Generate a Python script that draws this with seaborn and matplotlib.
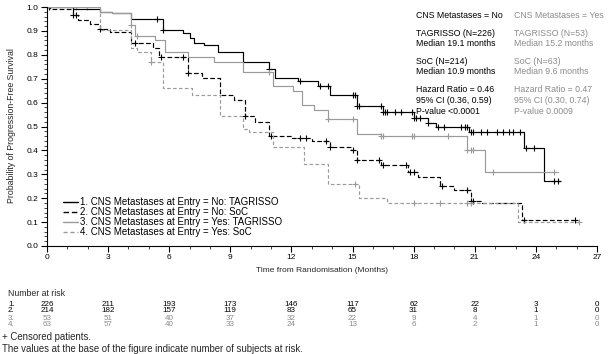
import numpy as np
import pandas as pd
import matplotlib
matplotlib.use("Agg")
import matplotlib.pyplot as plt
import seaborn as sns
from matplotlib.lines import Line2D
from matplotlib.ticker import MultipleLocator

# ---------------- data ----------------
# 1. CNS Metastases at Entry = No: TAGRISSO
t_tag_no = [0, 1.3, 2.6, 3.2, 4.1, 5.7, 6.7, 7.0, 7.2, 7.7, 8.4, 9.6, 10.9, 11.2, 12.3, 13.3,
            13.9, 15.2, 16.5, 18.0, 18.7, 19.1, 20.7, 23.4, 24.4, 25.2]
s_tag_no = [1.0, 0.99, 0.98, 0.975, 0.95, 0.905, 0.89, 0.87, 0.85, 0.84, 0.81, 0.77, 0.74, 0.705, 0.69, 0.67,
            0.63, 0.585, 0.56, 0.535, 0.515, 0.50, 0.475, 0.41, 0.27, 0.27]
c_tag_no = [0.1, 5.4, 5.7, 10.9, 12.4, 13.4, 13.8, 15.0, 15.1, 15.2, 15.3, 16.4, 16.5, 16.6, 16.7, 17.1, 17.4,
            17.9, 18.0, 18.1, 18.3, 18.7, 19.2, 19.5, 20.3, 20.5, 20.6, 20.8, 20.9, 21.3, 21.6, 22.1,
            22.4, 22.7, 22.9, 23.2, 23.5, 23.9, 24.9, 25.1]

# 2. CNS Metastases at Entry = No: SoC
t_soc_no = [0, 0.15, 1.3, 1.5, 2.1, 2.6, 3.1, 4.1, 5.2, 5.5, 6.9, 7.6, 8.5, 9.2, 9.7, 10.2, 10.9, 12.0,
            13.0, 13.9, 14.9, 15.2, 16.4, 17.7, 18.2, 19.3, 20.0, 20.8, 21.3, 23.3, 26.0]
s_soc_no = [1.0, 0.99, 0.967, 0.946, 0.93, 0.91, 0.895, 0.85, 0.83, 0.79, 0.725, 0.705, 0.63, 0.61, 0.545, 0.52,
            0.46, 0.45, 0.44, 0.415, 0.40, 0.36, 0.34, 0.31, 0.29, 0.25, 0.235, 0.19, 0.18, 0.11, 0.11]
c_soc_no = [1.3, 1.4, 2.6, 4.3, 5.6, 6.7, 6.9, 9.7, 11.0, 12.4, 12.7, 13.7, 13.9, 15.0, 15.2, 16.3, 16.5,
            17.6, 17.8, 18.0, 19.4, 20.6, 20.8, 20.9, 23.4, 25.9]

# 3. CNS Metastases at Entry = Yes: TAGRISSO
t_tag_yes = [0, 2.6, 3.2, 4.1, 4.3, 5.3, 5.8, 6.9, 8.2, 9.6, 11.1, 12.1, 12.5, 13.1, 13.8, 15.2, 16.4,
             20.6, 21.5, 25.1]
s_tag_yes = [1.0, 0.98, 0.975, 0.925, 0.88, 0.86, 0.81, 0.79, 0.77, 0.73, 0.67, 0.65, 0.59, 0.57, 0.53, 0.47, 0.46,
             0.40, 0.31, 0.31]
c_tag_yes = [1.3, 1.4, 1.95, 4.1, 4.4, 10.9, 13.8, 15.0, 16.4, 16.5, 17.9, 18.0, 19.7, 20.6, 20.8, 20.9,
             21.9, 24.9]

# 4. CNS Metastases at Entry = Yes: SoC
t_soc_yes = [0, 2.6, 4.1, 4.4, 5.1, 5.7, 7.1, 8.5, 9.6, 9.9, 11.1, 12.6, 13.8, 15.3, 16.7, 23.1, 26.2]
s_soc_yes = [1.0, 0.905, 0.83, 0.81, 0.77, 0.66, 0.63, 0.545, 0.49, 0.475, 0.415, 0.345, 0.26, 0.20, 0.18,
             0.10, 0.10]
c_soc_yes = [5.1, 15.1, 18.0, 19.3, 20.6, 20.8, 26.1]

# number at risk
risk_times = [0, 3, 6, 9, 12, 15, 18, 21, 24, 27]
risk_tag_no = [226, 211, 193, 173, 146, 117, 62, 22, 3, 0]
risk_soc_no = [214, 182, 157, 119, 83, 65, 31, 8, 1, 0]
risk_tag_yes = [53, 51, 40, 37, 32, 22, 9, 4, 1, 0]
risk_soc_yes = [63, 57, 40, 33, 24, 13, 6, 2, 1, 0]

legend_labels = ["1. CNS Metastases at Entry = No: TAGRISSO",
                 "2. CNS Metastases at Entry = No: SoC",
                 "3. CNS Metastases at Entry = Yes: TAGRISSO",
                 "4. CNS Metastases at Entry = Yes: SoC"]

# ---------------- style ----------------
sns.set_style("white")
plt.rcParams["font.family"] = ["Liberation Sans", "DejaVu Sans"]
BLACK = "#000000"
GRAY = "#9a9a9a"
TGRAY = "#8c8c8c"

W, H = 610, 354
fig = plt.figure(figsize=(W / 100, H / 100), dpi=100)
fx = lambda px: px / W
fy = lambda py: 1 - py / H

ax = fig.add_axes([fx(47), fy(246), fx(597) - fx(47), fy(7) - fy(246)])

series = [
    (t_tag_no, s_tag_no, c_tag_no, BLACK, "-", 0.85),
    (t_soc_no, s_soc_no, c_soc_no, BLACK, (0, (4, 2)), 0.85),
    (t_tag_yes, s_tag_yes, c_tag_yes, GRAY, "-", 0.85),
    (t_soc_yes, s_soc_yes, c_soc_yes, GRAY, (0, (3, 2)), 0.85),
]

for t, s, c, col, ls, lw in series:
    df = pd.DataFrame({"time": t, "surv": s})
    sns.lineplot(data=df, x="time", y="surv", drawstyle="steps-post", estimator=None,
                 color=col, linestyle=ls, linewidth=lw, ax=ax, legend=False)
    ta = np.asarray(t)
    sa = np.asarray(s)
    idx = np.searchsorted(ta, np.asarray(c), side="right") - 1
    cdf = pd.DataFrame({"time": c, "surv": sa[idx]})
    sns.scatterplot(data=cdf, x="time", y="surv", marker="+", s=16, color=col,
                    linewidth=0.8, ax=ax, legend=False)

ax.set_xlim(0, 27)
ax.set_ylim(0, 1.0)
ax.xaxis.set_major_locator(MultipleLocator(3))
ax.xaxis.set_minor_locator(MultipleLocator(1))
ax.yaxis.set_major_locator(MultipleLocator(0.1))
ax.yaxis.set_minor_locator(MultipleLocator(0.02))
ax.set_yticks(np.round(np.arange(0, 1.01, 0.1), 1))
ax.set_yticklabels([f"{v:.1f}" for v in np.arange(0, 1.01, 0.1)])
ax.tick_params(axis="both", which="major", direction="out", length=4, width=0.8,
               labelsize=6, pad=2, colors=BLACK, bottom=True, left=True)
ax.tick_params(axis="both", which="minor", direction="out", length=2, width=0.6,
               bottom=True, left=True)
for sp in ["top", "right"]:
    ax.spines[sp].set_visible(False)
for sp in ["left", "bottom"]:
    ax.spines[sp].set_color(BLACK)
    ax.spines[sp].set_linewidth(0.8)
ax.set_xlabel("")
ax.set_ylabel("")

fig.text(fx(322), fy(271), "Time from Randomisation (Months)", ha="center", va="center", fontsize=6)
fig.text(fx(12), fy(126), "Probability of Progression-Free Survival", ha="center", va="center",
         rotation=90, fontsize=6.3)

# bottom-left legend
leg_styles = [(BLACK, "-"), (BLACK, (0, (4, 2))), (GRAY, "-"), (GRAY, (0, (3, 2)))]
for i, (lab, (col, ls)) in enumerate(zip(legend_labels, leg_styles)):
    yy = 202 + i * 10
    fig.add_artist(Line2D([fx(63), fx(78)], [fy(yy), fy(yy)], color=col, linestyle=ls, linewidth=1.0))
    fig.text(fx(80), fy(yy), lab, ha="left", va="center", fontsize=7, color=BLACK)

# top-right annotation
col1 = ["CNS Metastases = No", None, "TAGRISSO (N=226)", "Median 19.1 months", None,
        "SoC (N=214)", "Median 10.9 months", None, "Hazard Ratio = 0.46", "95% CI (0.36, 0.59)",
        "P-value <0.0001"]
col2 = ["CNS Metastases = Yes", None, "TAGRISSO (N=53)", "Median 15.2 months", None,
        "SoC (N=63)", "Median 9.6 months", None, "Hazard Ratio = 0.47", "95% CI (0.30, 0.74)",
        "P-value 0.0009"]
ys = [15, None, 33, 44, None, 61, 72, None, 89, 100, 111]
for a, b, yy in zip(col1, col2, ys):
    if a is None:
        continue
    fig.text(fx(416), fy(yy), a, ha="left", va="center", fontsize=6.3, color=BLACK)
    fig.text(fx(514), fy(yy), b, ha="left", va="center", fontsize=6.3, color=TGRAY)

# number at risk table
fig.text(fx(8), fy(294), "Number at risk", ha="left", va="center", fontsize=6.3)
rows = [risk_tag_no, risk_soc_no, risk_tag_yes, risk_soc_yes]
row_cols = [BLACK, BLACK, TGRAY, TGRAY]
row_y = [304, 311, 318, 325]
for r, (vals, col, yy) in enumerate(zip(rows, row_cols, row_y)):
    fig.text(fx(8), fy(yy), f"{r + 1}.", ha="left", va="center", fontsize=5.8, color=col)
    for tt, v in zip(risk_times, vals):
        px = 47 + tt * (550 / 27)
        fig.text(fx(px), fy(yy), str(v), ha="center", va="center", fontsize=5.8, color=col)

fig.text(fx(2), fy(337), "+ Censored patients.", ha="left", va="center", fontsize=6.9)
fig.text(fx(2), fy(349), "The values at the base of the figure indicate number of subjects at risk.",
         ha="left", va="center", fontsize=6.9)

fig.savefig("out.png", dpi=100)
